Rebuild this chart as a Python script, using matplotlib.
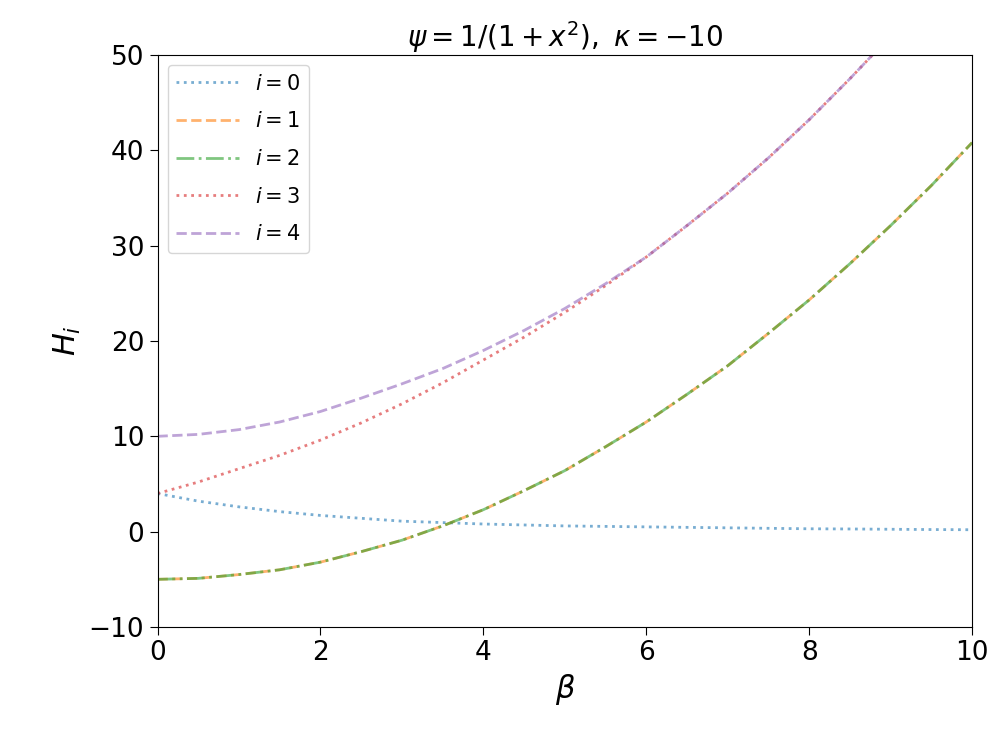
import numpy as np
import matplotlib.pyplot as plt

beta = [0, 0.5, 1, 1.5, 2, 2.5, 3, 3.5, 4, 4.5, 5, 5.5, 6, 6.5, 7, 7.5, 8, 8.5, 9, 9.5, 10]
h0 = [4.0, 3.2, 2.6, 2.1, 1.7, 1.4, 1.1, 0.95, 0.8, 0.7, 0.6, 0.55, 0.5, 0.45, 0.4, 0.35, 0.3, 0.28, 0.25, 0.22, 0.2]
h1 = [-5.0, -4.9, -4.5, -4.0, -3.2, -2.1, -0.9, 0.6, 2.3, 4.3, 6.4, 8.9, 11.5, 14.4, 17.4, 20.8, 24.3, 28.1, 32.1, 36.3, 40.8]
h2 = [-5.0, -4.9, -4.5, -4.0, -3.2, -2.1, -0.9, 0.6, 2.3, 4.3, 6.4, 8.9, 11.5, 14.4, 17.4, 20.8, 24.3, 28.1, 32.1, 36.3, 40.8]
h3 = [4.0, 5.2, 6.6, 8.0, 9.6, 11.4, 13.4, 15.6, 18.0, 20.4, 23.0, 25.8, 28.8, 32.1, 35.5, 39.2, 43.2, 47.5, 52.0, 56.7, 61.5]
h4 = [10.0, 10.2, 10.7, 11.5, 12.6, 14.0, 15.5, 17.1, 19.0, 21.1, 23.4, 26.0, 28.8, 32.1, 35.5, 39.2, 43.2, 47.5, 52.0, 56.7, 61.5]

series = [h0, h1, h2, h3, h4]
styles = [':', '--', '-.', ':', '--']
colors = ['tab:blue', 'tab:orange', 'tab:green', 'tab:red', 'tab:purple']

fig = plt.figure(figsize=(9.97, 7.42), dpi=100)
ax = fig.add_axes([0.158, 0.155, 0.817, 0.771])
for i, (h, ls, c) in enumerate(zip(series, styles, colors)):
    ax.plot(beta, h, ls=ls, color=c, alpha=0.6, lw=2, label=f'$i={i}$')

ax.set_xlim(0, 10)
ax.set_ylim(-10, 50)
ax.tick_params(labelsize=19, length=6)
ax.set_xlabel(r'$\beta$', fontsize=22)
ax.set_ylabel(r'$H_i$', fontsize=22)
ax.set_title(r'$\psi = 1/(1+x^2),\ \kappa = -10$', fontsize=20)
ax.legend(loc='upper left', fontsize=15, handlelength=3, labelspacing=0.85)
fig.savefig('out.png', dpi=100)
